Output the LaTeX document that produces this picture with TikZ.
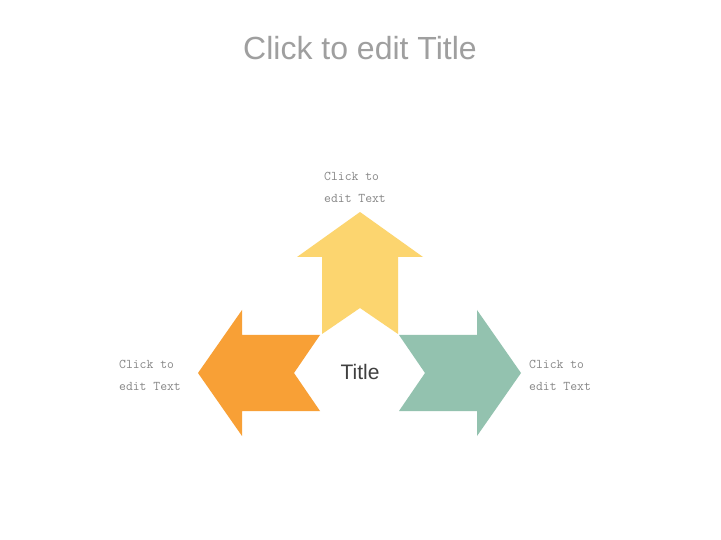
\documentclass[tikz,border=0pt]{standalone}
\usepackage{fontspec}
\setmainfont{Liberation Sans}
\usetikzlibrary{positioning}

\definecolor{upyellow}{HTML}{FCD56F}
\definecolor{leftorange}{HTML}{F8A036}
\definecolor{rightgreen}{HTML}{93C2AF}

\begin{document}
\begin{tikzpicture}[
      x=1pt, y=-1pt,
      label/.style={anchor=west, align=left, text=gray!95, font=\ttfamily\fontsize{13.3}{22}\selectfont, inner sep=0pt},
      heading/.style={text=gray!75, font=\fontsize{32}{36}\selectfont},
      centre/.style={text=black!75, font=\fontsize{21}{24}\selectfont}
    ]
      \useasboundingbox[fill=white] (0,0) rectangle (721,540);

      % arrows
      \fill[upyellow] (360,212) -- (423,257) -- (398,257) -- (398,334) -- (360,308) -- (322,334) -- (322,257) -- (297,257) -- cycle;
      \fill[leftorange] (198,373) -- (242,310) -- (242,335) -- (320,335) -- (294,373) -- (320,411) -- (242,411) -- (242,436) -- cycle;
      \fill[rightgreen] (521,373) -- (477,310) -- (477,335) -- (399,335) -- (425,373) -- (399,411) -- (477,411) -- (477,436) -- cycle;

      % texts
      \node (title) [heading] at (360,48) {Click to edit Title};
      \node (centre) [centre] at (360,372) {Title};
      \node (uptext) [label] at (324,187) {Click to\\edit Text};
      \node (lefttext) [label] at (119,375) {Click to\\edit Text};
      \node (righttext) [label] at (529,375) {Click to\\edit Text};
    \end{tikzpicture}
\end{document}
